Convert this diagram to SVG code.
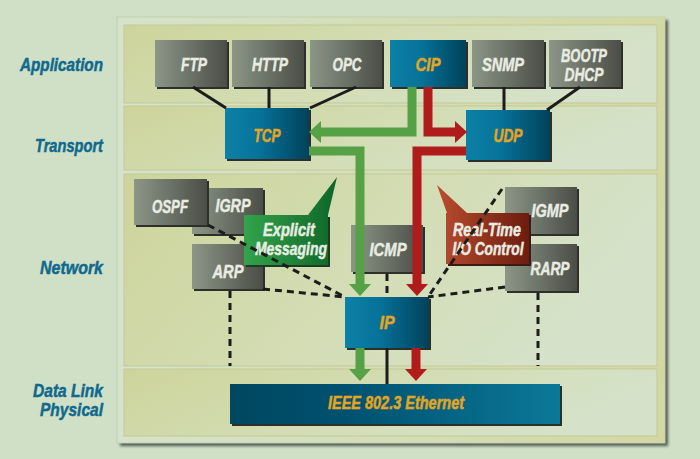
<svg xmlns="http://www.w3.org/2000/svg" width="700" height="459" viewBox="0 0 700 459">
<defs>
<style>
.f{font-family:"Liberation Sans",Arial,sans-serif;font-weight:bold;font-style:italic;font-size:19px;stroke-width:0.5px}
.c{font-size:18px}
.lbl{fill:#10698d;stroke:#10698d;text-anchor:end}
.t{text-anchor:middle}
.tw{fill:#e9ece2;stroke:#e9ece2}
.ty{fill:#e2a524;stroke:#e2a524}
.sh{fill:#2c2f2a}
.gray{fill:url(#gGray)}
.blue{fill:url(#gBlue)}
.band{fill:url(#gBand);stroke:#c3c995;stroke-width:1}
.ln{stroke:#1c1c1c;stroke-width:3;fill:none}
.dash{stroke:#1c1c1c;stroke-width:3;fill:none;stroke-dasharray:7 5}
.ga{stroke:#56a146;stroke-width:9;fill:none;stroke-linejoin:miter}
.ra{stroke:#b01c1c;stroke-width:9;fill:none;stroke-linejoin:miter}
</style>
<linearGradient id="gGray" x1="0" y1="0" x2="1" y2="0"><stop offset="0" stop-color="#8c9686"/><stop offset="1" stop-color="#4a4e47"/></linearGradient>
<linearGradient id="gBlue" x1="0" y1="0" x2="1" y2="0"><stop offset="0" stop-color="#0c80a6"/><stop offset="0.4" stop-color="#07739a"/><stop offset="1" stop-color="#00425a"/></linearGradient>
<linearGradient id="gEth" x1="0" y1="0" x2="1" y2="0"><stop offset="0" stop-color="#00475f"/><stop offset="0.35" stop-color="#005170"/><stop offset="1" stop-color="#0b7898"/></linearGradient>
<linearGradient id="gGreenC" x1="0" y1="0" x2="1" y2="0"><stop offset="0" stop-color="#34a34b"/><stop offset="1" stop-color="#0e6628"/></linearGradient>
<linearGradient id="gRedC" x1="0" y1="0" x2="1" y2="0"><stop offset="0" stop-color="#b94d2f"/><stop offset="1" stop-color="#6c1c0e"/></linearGradient>
<linearGradient id="gBand" x1="0" y1="0" x2="1" y2="0.3"><stop offset="0" stop-color="#cdd49b"/><stop offset="0.5" stop-color="#d3dcb2"/><stop offset="1" stop-color="#d5e2c9"/></linearGradient>
<linearGradient id="gPanel" x1="0" y1="0" x2="1" y2="0"><stop offset="0" stop-color="#d4e3cb"/><stop offset="1" stop-color="#d3d8a3"/></linearGradient>
<filter id="blur" x="-5%" y="-5%" width="110%" height="110%"><feGaussianBlur stdDeviation="1.6"/></filter>
<marker id="mG" viewBox="0 -11 12 22" refX="0" refY="0" markerWidth="12" markerHeight="22" markerUnits="userSpaceOnUse" orient="auto"><path d="M0,-11 L12,0 L0,11 z" fill="#56a146"/></marker>
<marker id="mR" viewBox="0 -11 12 22" refX="0" refY="0" markerWidth="12" markerHeight="22" markerUnits="userSpaceOnUse" orient="auto"><path d="M0,-11 L12,0 L0,11 z" fill="#b01c1c"/></marker>
</defs>
<rect x="0" y="0" width="700" height="459" fill="#cfe0c6"/>
<g id="panel">
<rect x="120" y="20" width="548" height="426" fill="#4f5a52" filter="url(#blur)"/>
<rect x="117" y="17" width="548" height="426" fill="url(#gPanel)" stroke="#c6cfae" stroke-width="1"/>
<rect class="band" x="124" y="25" width="533" height="78"/>
<rect class="band" x="124" y="106" width="533" height="64"/>
<rect class="band" x="124" y="174" width="533" height="192"/>
<rect class="band" x="124" y="369" width="533" height="67"/>
</g>
<g id="layer-labels" class="f lbl">
<text x="103" y="71" textLength="83" lengthAdjust="spacingAndGlyphs">Application</text>
<text x="103" y="152" textLength="68" lengthAdjust="spacingAndGlyphs">Transport</text>
<text x="103" y="274" textLength="63" lengthAdjust="spacingAndGlyphs">Network</text>
<text x="103" y="397" textLength="70" lengthAdjust="spacingAndGlyphs">Data Link</text>
<text x="103" y="416" textLength="63" lengthAdjust="spacingAndGlyphs">Physical</text>
</g>
<g id="ftp"><rect class="sh" x="157" y="42" width="72" height="47"/><rect class="gray" x="155" y="40" width="72" height="47"/><text class="f t tw" x="194" y="71" textLength="26" lengthAdjust="spacingAndGlyphs">FTP</text></g>
<g id="http"><rect class="sh" x="234" y="42" width="72" height="47"/><rect class="gray" x="232" y="40" width="72" height="47"/><text class="f t tw" x="270" y="71" textLength="36" lengthAdjust="spacingAndGlyphs">HTTP</text></g>
<g id="opc"><rect class="sh" x="312" y="42" width="72" height="47"/><rect class="gray" x="310" y="40" width="72" height="47"/><text class="f t tw" x="347" y="71" textLength="29" lengthAdjust="spacingAndGlyphs">OPC</text></g>
<g id="cip"><rect class="sh" x="392" y="42" width="76" height="47"/><rect class="blue" x="390" y="40" width="76" height="47"/><text class="f t ty" x="428" y="71" textLength="25" lengthAdjust="spacingAndGlyphs">CIP</text></g>
<g id="snmp"><rect class="sh" x="474" y="42" width="72" height="47"/><rect class="gray" x="472" y="40" width="72" height="47"/><text class="f t tw" x="503" y="71" textLength="42" lengthAdjust="spacingAndGlyphs">SNMP</text></g>
<g id="bootp-dhcp"><rect class="sh" x="551" y="42" width="72" height="47"/><rect class="gray" x="549" y="40" width="72" height="47"/><text class="f t tw c" x="584" y="62" textLength="46" lengthAdjust="spacingAndGlyphs">BOOTP</text><text class="f t tw c" x="584" y="81" textLength="39" lengthAdjust="spacingAndGlyphs">DHCP</text></g>
<g id="tcp"><rect class="sh" x="227" y="110" width="84" height="51"/><rect class="blue" x="225" y="108" width="84" height="51"/><text class="f t ty" x="267" y="142" textLength="27" lengthAdjust="spacingAndGlyphs">TCP</text></g>
<g id="udp"><rect class="sh" x="468" y="112" width="84" height="50"/><rect class="blue" x="466" y="110" width="84" height="50"/><text class="f t ty" x="508" y="142" textLength="29" lengthAdjust="spacingAndGlyphs">UDP</text></g>
<g id="igrp"><rect class="sh" x="194" y="190" width="71" height="46"/><rect class="gray" x="192" y="188" width="71" height="46"/><text class="f t tw" x="233" y="212" textLength="35" lengthAdjust="spacingAndGlyphs">IGRP</text></g>
<g id="ospf"><rect class="sh" x="136" y="181" width="73" height="46"/><rect class="gray" x="134" y="179" width="73" height="46"/><text class="f t tw" x="170" y="213" textLength="36" lengthAdjust="spacingAndGlyphs">OSPF</text></g>
<g id="arp"><rect class="sh" x="194" y="246" width="71" height="45"/><rect class="gray" x="192" y="244" width="71" height="45"/><text class="f t tw" x="228" y="278" textLength="31" lengthAdjust="spacingAndGlyphs">ARP</text></g>
<g id="explicit-messaging"><path d="M246,217 H330 V267 H246 Z" fill="#1f3a22"/><path d="M244,215 H308 L337,177 L328,215 V265 H244 Z" fill="url(#gGreenC)"/><text class="f t tw c" x="289" y="236" textLength="52" lengthAdjust="spacingAndGlyphs">Explicit</text><text class="f t tw c" x="291" y="255" textLength="72" lengthAdjust="spacingAndGlyphs">Messaging</text></g>
<g id="icmp"><rect class="sh" x="353" y="227" width="72" height="47"/><rect class="gray" x="351" y="225" width="72" height="47"/><text class="f t tw" x="388" y="256" textLength="37" lengthAdjust="spacingAndGlyphs">ICMP</text></g>
<g id="igmp"><rect class="sh" x="507" y="189" width="72" height="47"/><rect class="gray" x="505" y="187" width="72" height="47"/><text class="f t tw" x="550" y="217" textLength="37" lengthAdjust="spacingAndGlyphs">IGMP</text></g>
<g id="rarp"><rect class="sh" x="507" y="246" width="72" height="47"/><rect class="gray" x="505" y="244" width="72" height="47"/><text class="f t tw" x="550" y="275" textLength="39" lengthAdjust="spacingAndGlyphs">RARP</text></g>
<g id="realtime-io"><path d="M448,215 H531 V266 H448 Z" fill="#3a1a12"/><path d="M446,213 H447 L437,185 L467,213 H529 V264 H446 Z" fill="url(#gRedC)"/><text class="f t tw c" x="487" y="236" textLength="68" lengthAdjust="spacingAndGlyphs">Real-Time</text><text class="f t tw c" x="488" y="255" textLength="71" lengthAdjust="spacingAndGlyphs">I/O Control</text></g>
<g id="ip"><rect class="sh" x="347" y="299" width="84" height="51"/><rect class="blue" x="345" y="297" width="84" height="51"/><text class="f t ty" x="387" y="329" textLength="15" lengthAdjust="spacingAndGlyphs">IP</text></g>
<g id="ethernet"><rect class="sh" x="232" y="386" width="330" height="40"/><rect x="230" y="384" width="330" height="40" fill="url(#gEth)"/><text class="f t ty" x="396" y="409" textLength="136" lengthAdjust="spacingAndGlyphs">IEEE 802.3 Ethernet</text></g>
<g id="connectors">
<line class="ln" x1="193" y1="87" x2="226" y2="108"/>
<line class="ln" x1="269" y1="87" x2="269" y2="108"/>
<line class="ln" x1="356" y1="87" x2="310" y2="108"/>
<line class="ln" x1="504" y1="87" x2="504" y2="110"/>
<line class="ln" x1="580" y1="87" x2="547" y2="110"/>
<line class="dash" x1="208" y1="225" x2="345" y2="297"/>
<line class="dash" x1="263" y1="289" x2="345" y2="297"/>
<line class="dash" x1="230" y1="291" x2="230" y2="366"/>
<line class="dash" x1="387" y1="274" x2="387" y2="297"/>
<line class="dash" x1="502" y1="189" x2="428" y2="297"/>
<line class="dash" x1="505" y1="287" x2="428" y2="297"/>
<line class="dash" x1="538" y1="293" x2="538" y2="366"/>
<line class="ln" x1="387" y1="348" x2="387" y2="384" stroke-width="2"/>
<polyline class="ga" points="412,87 412,132 321,132" marker-end="url(#mG)"/>
<polyline class="ra" points="428,87 428,132 455,132" marker-end="url(#mR)"/>
<polyline class="ga" points="309,151 360,151 360,284" marker-end="url(#mG)"/>
<polyline class="ra" points="466,151 417,151 417,284" marker-end="url(#mR)"/>
<polyline class="ga" points="360,348 360,369" marker-end="url(#mG)"/>
<polyline class="ra" points="416,348 416,369" marker-end="url(#mR)"/>
</g>
</svg>
